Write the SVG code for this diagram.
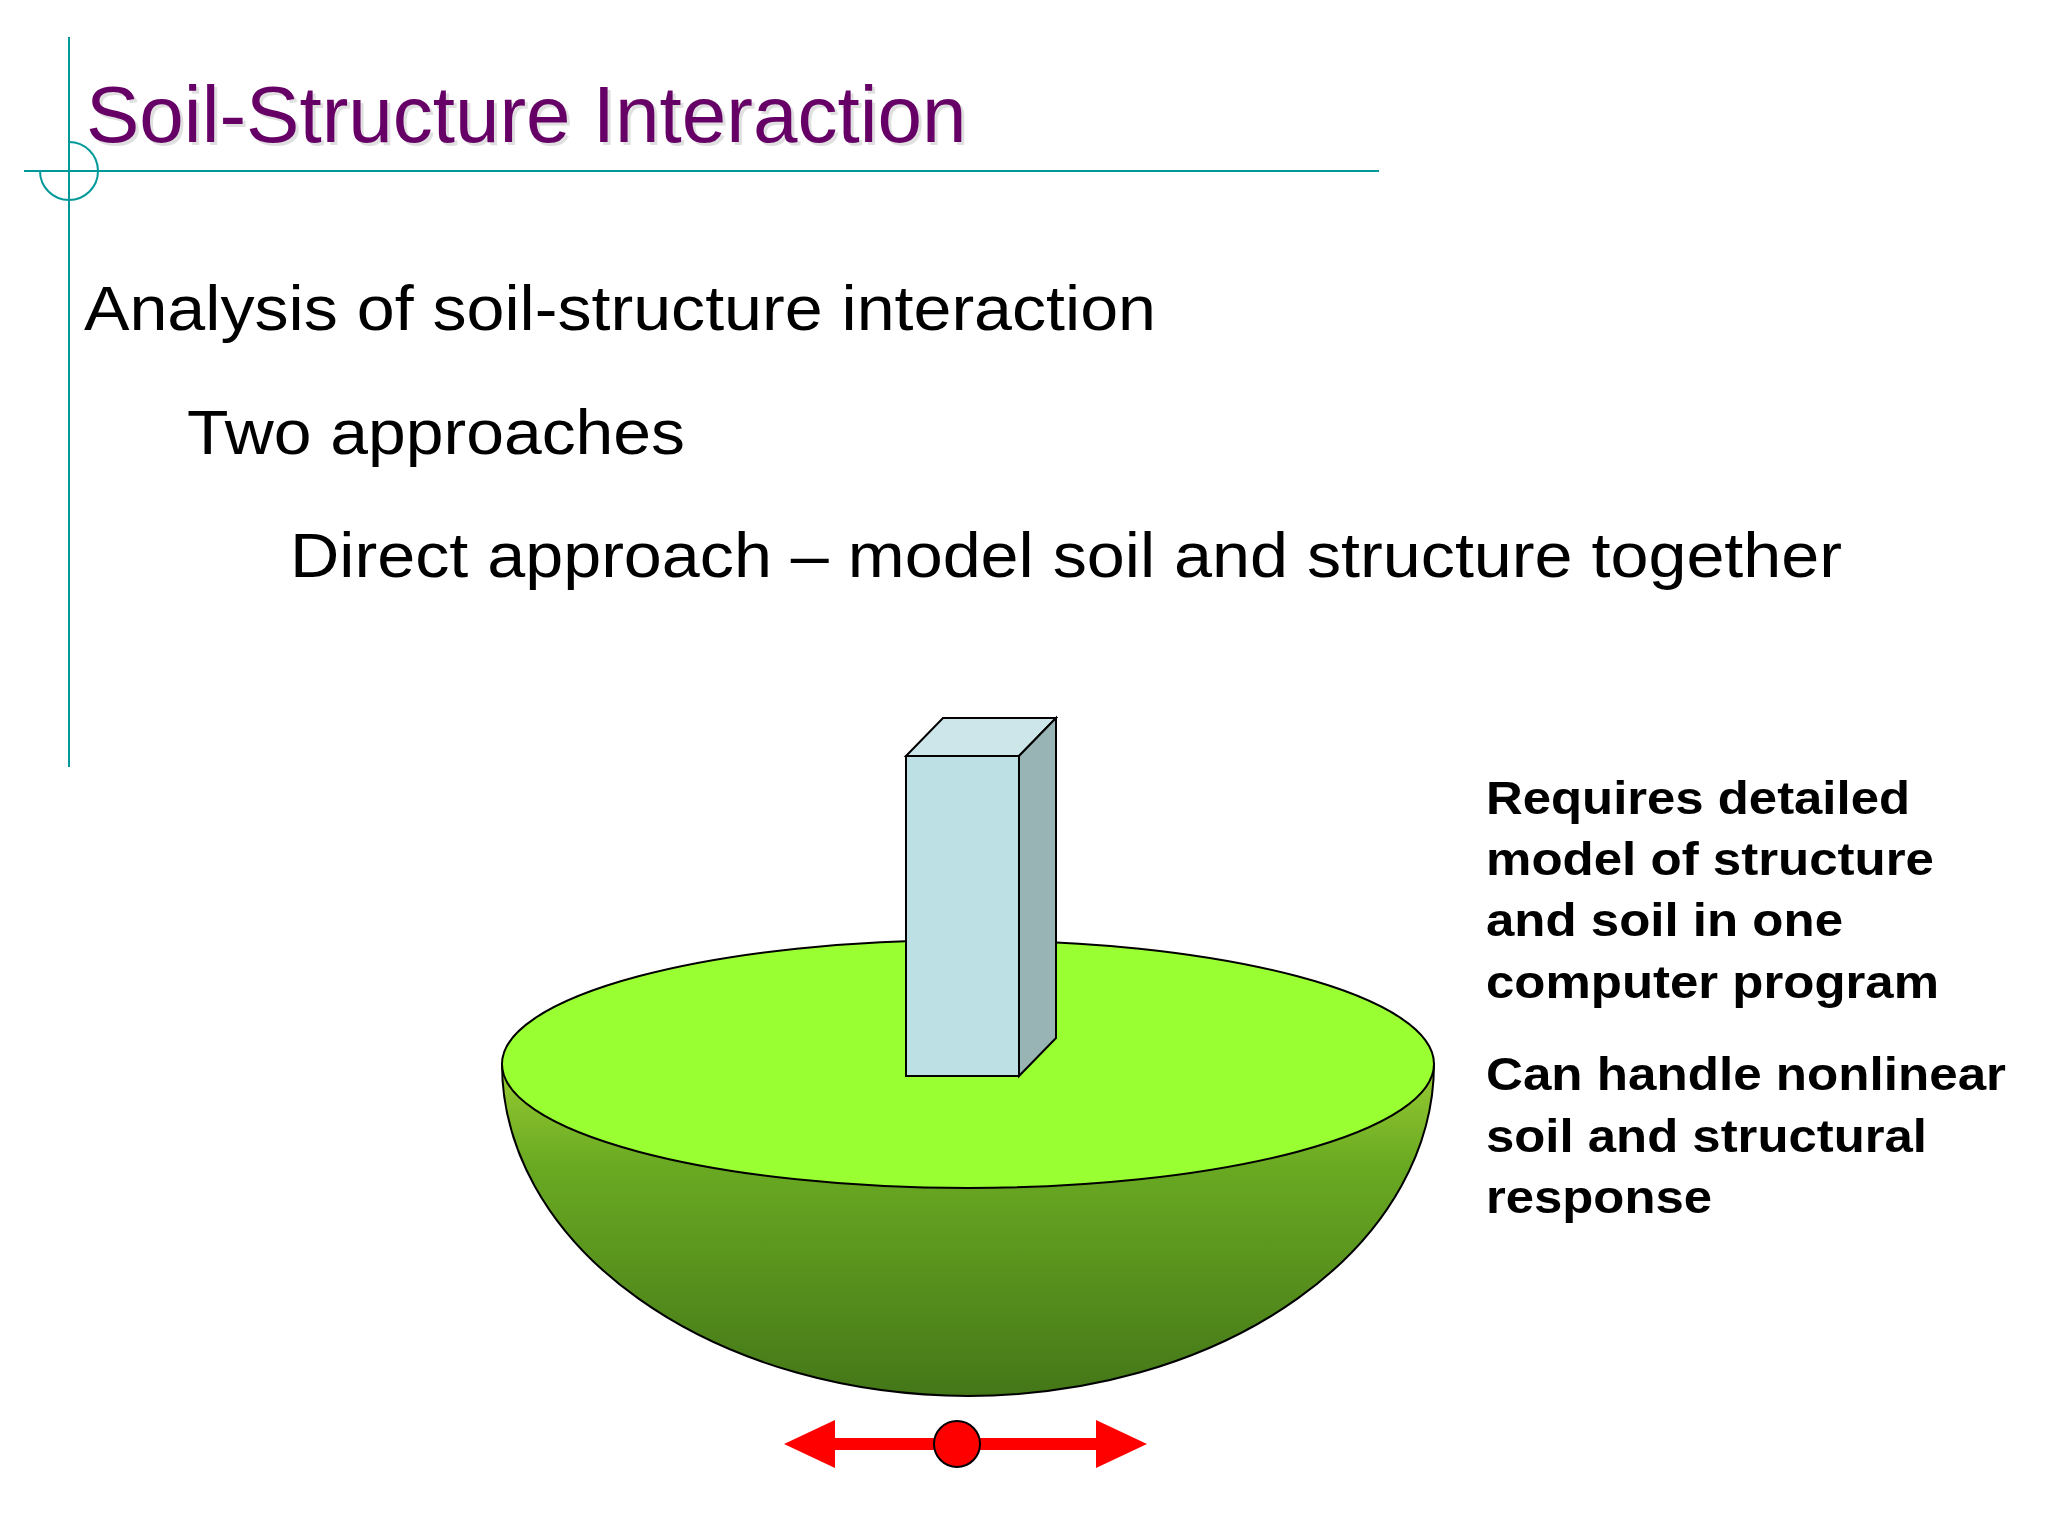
<svg xmlns="http://www.w3.org/2000/svg" width="2048" height="1536" viewBox="0 0 2048 1536">
<defs>
<linearGradient id="bowl" x1="0" y1="0" x2="0" y2="1">
<stop offset="0" stop-color="#99cc33"/><stop offset="0.3" stop-color="#6aaa22"/><stop offset="1" stop-color="#447718"/>
</linearGradient>
<style>
.t{font-family:"Liberation Sans",Arial,sans-serif;fill:#000}
.b{font-family:"Liberation Sans",Arial,sans-serif;font-weight:bold;font-size:47px;fill:#000}
</style>
</defs>
<rect width="2048" height="1536" fill="#fff"/>
<g id="decor" fill="none" stroke="#009999" stroke-width="2">
<line x1="24" y1="171" x2="1379" y2="171"/>
<line x1="69" y1="37" x2="69" y2="767"/>
<path d="M69,142 A29,29 0 1 1 40,171"/>
</g>
<text class="t" x="89" y="145" font-size="80" style="fill:#cccccc" opacity="0.6">Soil-Structure Interaction</text>
<text class="t" x="86" y="142" font-size="80" style="fill:#660066">Soil-Structure Interaction</text>
<text class="t" x="84" y="330" font-size="63" textLength="1072" lengthAdjust="spacingAndGlyphs">Analysis of soil-structure interaction</text>
<text class="t" x="187" y="454" font-size="63" textLength="498" lengthAdjust="spacingAndGlyphs">Two approaches</text>
<text class="t" x="290" y="577" font-size="63" textLength="1552" lengthAdjust="spacingAndGlyphs">Direct approach – model soil and structure together</text>
<g id="soil">
<path d="M502,1064 A466,332 0 0 0 1434,1064 Z" fill="url(#bowl)" stroke="#000" stroke-width="2"/>
<ellipse cx="968" cy="1064" rx="466" ry="124" fill="#99ff33" stroke="#000" stroke-width="2"/>
</g>
<g id="building" stroke="#000" stroke-width="2">
<polygon points="906,756 943,718 1056,718 1019,756" fill="#cce6ea"/>
<polygon points="1019,756 1056,718 1056,1038 1019,1076" fill="#99b4b4"/>
<rect x="906" y="756" width="113" height="320" fill="#bde0e4"/>
</g>
<g id="connectors">
<line x1="820" y1="1444" x2="1100" y2="1444" stroke="#ff0000" stroke-width="12"/>
<polygon points="784,1444 835,1420 835,1468" fill="#ff0000"/>
<polygon points="1147,1444 1096,1420 1096,1468" fill="#ff0000"/>
<circle cx="957" cy="1444" r="23" fill="#ff0000" stroke="#000" stroke-width="2"/>
</g>
<g id="notes">
<text class="b" x="1486" y="814" textLength="424" lengthAdjust="spacingAndGlyphs">Requires detailed</text>
<text class="b" x="1486" y="875" textLength="448" lengthAdjust="spacingAndGlyphs">model of structure</text>
<text class="b" x="1486" y="936" textLength="357" lengthAdjust="spacingAndGlyphs">and soil in one</text>
<text class="b" x="1486" y="998" textLength="453" lengthAdjust="spacingAndGlyphs">computer program</text>
<text class="b" x="1486" y="1090" textLength="520" lengthAdjust="spacingAndGlyphs">Can handle nonlinear</text>
<text class="b" x="1486" y="1152" textLength="441" lengthAdjust="spacingAndGlyphs">soil and structural</text>
<text class="b" x="1486" y="1213" textLength="226" lengthAdjust="spacingAndGlyphs">response</text>
</g>
</svg>
